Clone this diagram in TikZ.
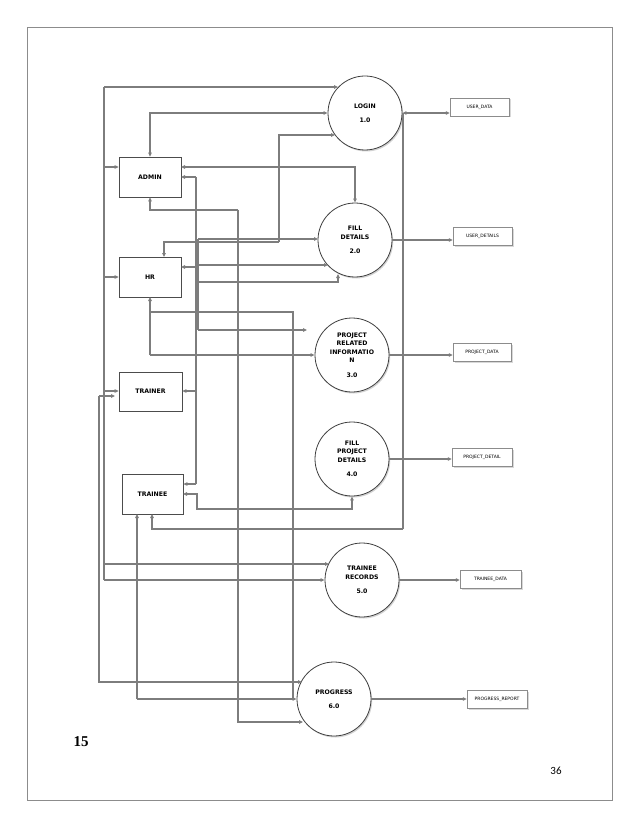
\documentclass[tikz,border=0pt]{standalone}
\usepackage{fontspec}
\setmainfont{DejaVu Sans}
\usetikzlibrary{arrows.meta,shadows}
\definecolor{ln}{RGB}{125,125,125}
\begin{document}
\begin{tikzpicture}[x=1pt,y=-1pt,
 proc/.style={circle,draw=black!75,line width=0.8pt,fill=white,minimum size=74pt,inner sep=0pt,align=center,font=\bfseries\fontsize{6.2}{8.5}\selectfont,drop shadow={shadow xshift=1.2pt,shadow yshift=-1.5pt,fill=black!35}},
 ent/.style={rectangle,draw=black!70,line width=0.7pt,fill=white,inner sep=0pt,font=\bfseries\fontsize{6.2}{8}\selectfont,drop shadow={shadow xshift=1pt,shadow yshift=-1pt,fill=black!30}},
 store/.style={rectangle,draw=black!45,line width=0.5pt,fill=white,inner sep=0pt,minimum height=18pt,font=\fontsize{4.5}{5}\selectfont,drop shadow={shadow xshift=1.5pt,shadow yshift=-1.5pt,fill=black!30}},
 fl/.style={draw=ln,line width=1.1pt,-{Triangle[length=4pt,width=3.5pt]}},
 ln/.style={draw=ln,line width=1.1pt},
 dfl/.style={draw=ln,line width=1.1pt,{Triangle[length=4pt,width=3.5pt]}-{Triangle[length=4pt,width=3.5pt]}}]
\useasboundingbox (0,0) rectangle (638,826);
\draw[black!45,line width=0.6pt] (27,27) rectangle (612,800);
% entities
\node[ent,minimum width=62pt,minimum height=40pt] (admin) at (150,177) {ADMIN};
\node[ent,minimum width=62pt,minimum height=40pt] (hr) at (150,277) {HR};
\node[ent,minimum width=63pt,minimum height=39pt] (trainer) at (150.5,391.5) {TRAINER};
\node[ent,minimum width=61pt,minimum height=40pt] (trainee) at (152.5,494) {TRAINEE};
% processes
\node[proc] (p1) at (365,113) {LOGIN\\[6pt]1.0};
\node[proc] (p2) at (355,240) {FILL\\DETAILS\\[6pt]2.0};
\node[proc] (p3) at (352,355) {PROJECT\\RELATED\\INFORMATIO\\N\\[6pt]3.0};
\node[proc] (p4) at (352,459) {FILL\\PROJECT\\DETAILS\\[6pt]4.0};
\node[proc] (p5) at (362,580) {TRAINEE\\RECORDS\\[6pt]5.0};
\node[proc] (p6) at (334,699) {PROGRESS\\[6pt]6.0};
% stores
\node[store,minimum width=59pt] (s1) at (479.5,107) {USER\_DATA};
\node[store,minimum width=59pt] (s2) at (482.5,236.5) {USER\_DETAILS};
\node[store,minimum width=58pt] (s3) at (482,352.5) {PROJECT\_DATA};
\node[store,minimum width=60pt] (s4) at (482,457) {PROJECT\_DETAIL};
\node[store,minimum width=61pt] (s5) at (490.5,579) {TRAINEE\_DATA};
\node[store,minimum width=60pt] (s6) at (497,699) {PROGRESS\_REPORT};
% process to store
\draw[dfl] (p1.east) -- (s1.west|-p1.east);
\draw[fl] (p2.east) -- (s2.west|-p2.east);
\draw[fl] (p3.east) -- (s3.west|-p3.east);
\draw[fl] (p4.east) -- (s4.west|-p4.east);
\draw[fl] (p5.east) -- (s5.west|-p5.east);
\draw[fl] (p6.east) -- (s6.west|-p6.east);
% left bus x=104
\draw[ln] (104,580) -- (104,87);
\draw[fl] (104,87) -- (338,87);
\draw[fl] (104,167) -- (admin.west|-104,167);
\draw[fl] (104,277) -- (hr.west);
\draw[fl] (104,391) -- (trainer.west|-104,391);
\draw[fl] (104,564) -- (329,564);
\draw[fl] (104,580) -- (p5.west|-104,580);
% x=99 bus
\draw[fl] (99,396) -- (115,396);
\draw[fl] (99,396) -- (99,682) -- (302,682);
% admin - login
\draw[dfl] (admin.north) -- (150,113) -- (p1.west);
% HR - login
\draw[fl] (279,242) -- (279,135) -- (335,135);
\draw[fl] (279,242) -- (164,242) -- (164,257);
% admin right - fill details
\draw[dfl] (181,167) -- (355,167) -- (p2.north);
% admin right 177 bus x=196
\draw[fl] (196,177) -- (181,177);
\draw[ln] (196,177) -- (196,484);
\draw[fl] (196,391) -- (trainer.east|-196,391);
\draw[fl] (196,484) -- (trainee.east|-196,484);
\draw[fl] (196,267) -- (181,267);
% x=198 bus
\draw[ln] (198,239) -- (198,330);
\draw[fl] (198,239) -- (318,239);
\draw[fl] (198,265) -- (328,265);
\draw[fl] (198,282) -- (338,282) -- (338,274);
\draw[fl] (198,330) -- (307,330);
% admin bottom - progress
\draw[fl] (238,210) -- (150,210) -- (admin.south);
\draw[fl] (238,210) -- (238,722) -- (303,722);
% HR bottom
\draw[fl] (150,355) -- (150,297);
\draw[fl] (150,355) -- (p3.west);
\draw[ln] (150,312) -- (293,312) -- (293,699);
% trainee bottom
\draw[fl] (137,699) -- (137,514);
\draw[fl] (137,699) -- (p6.west);
\draw[fl] (403,529) -- (152,529) -- (152,514);
\draw[ln] (403,529) -- (403,113);
% trainee right - fill project
\draw[fl] (352,509) -- (197,509) -- (197,494) -- (183,494);
\draw[fl] (197,509) -- (352,509) -- (p4.south);
% page numbers
\node[font=\bfseries\fontspec{Liberation Serif}\fontsize{15}{15}\selectfont] (n15) at (81,742) {15};
\node[font=\fontspec{Carlito}\fontsize{11}{11}\selectfont] (n36) at (556,771) {36};
\end{tikzpicture}
\end{document}
